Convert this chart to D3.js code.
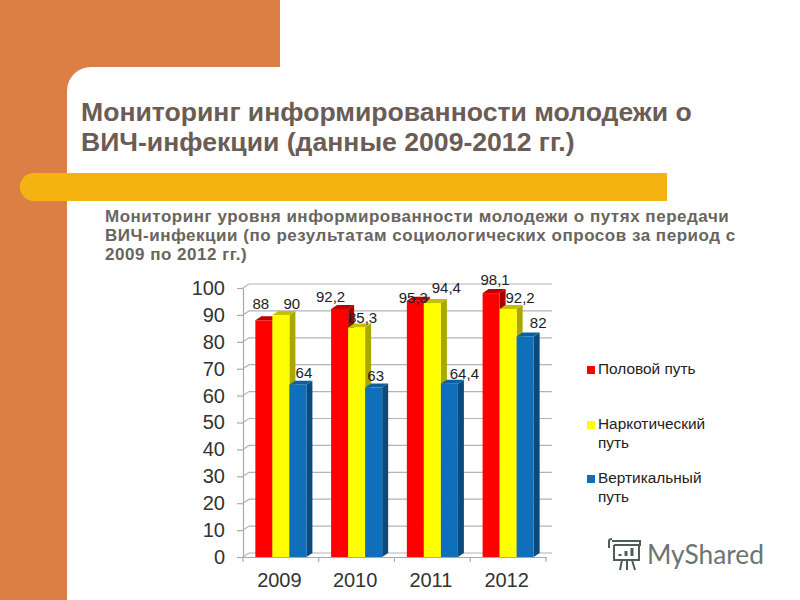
<!DOCTYPE html>
<html>
<head>
<meta charset="utf-8">
<script src="https://cdn.jsdelivr.net/npm/d3@7"></script>
<style>
    html, body { margin: 0; padding: 0; background: #fff; }
    svg { display: block; font-family: "Liberation Sans", Arial, sans-serif; }
</style>
</head>
<body>
<div id="chart"></div>
<script>
// Chart data
var years = ["2009", "2010", "2011", "2012"];
var seriesNames = ["Половой путь", "Наркотический путь", "Вертикальный путь"];
var sexual = [88, 92.2, 95.3, 98.1];
var drugs = [90, 85.3, 94.4, 92.2];
var vertical = [64, 63, 64.4, 82];
var yTicks = [0, 10, 20, 30, 40, 50, 60, 70, 80, 90, 100];

var titleLines = ["Мониторинг информированности молодежи о", "ВИЧ-инфекции (данные 2009-2012 гг.)"];
var subtitleLines = [
    "Мониторинг уровня информированности молодежи о путях передачи",
    "ВИЧ-инфекции (по результатам социологических опросов за период с",
    "2009 по 2012 гг.)"
];

// Hand placed value labels, same shape as the series: [dx, dy] from top of the bar
var labelNudge = [
    [[-3, -11], [-9, -7], [-2, 2], [4, -8]],
    [[11, -6], [6, -5], [14, -10], [12, -6]],
    [[6, -7], [2, -7], [15, -5], [13, -8]]
];

var seriesValues = [sexual, drugs, vertical];
var colors = [
    { front: "#ff0000", top: "#c00000", side: "#a80000" },
    { front: "#ffff00", top: "#c4c000", side: "#aaa800" },
    { front: "#0f6fba", top: "#0f5f9f", side: "#0b4a7d" }
];

var svg = d3.select("#chart").append("svg").attr("width", 800).attr("height", 600);

// Slide background
svg.append("rect").attr("width", 800).attr("height", 600).attr("fill", "#fff");
svg.append("rect").attr("width", 280).attr("height", 600).attr("fill", "#dc7f45");
svg.append("rect").attr("x", 67).attr("y", 67).attr("width", 240).attr("height", 560).attr("rx", 24).attr("fill", "#fff");
svg.append("rect").attr("x", 150).attr("y", 120).attr("width", 200).attr("height", 480).attr("fill", "#fff");
svg.append("path")
    .attr("d", "M667,173H34a14,14 0 0 0 0,28H667Z")
    .attr("fill", "#f5b312");

// Titles
svg.selectAll(".title").data(titleLines).enter().append("text")
    .attr("class", "title")
    .attr("x", 81)
    .attr("y", function (d, i) { return 121 + i * 30; })
    .attr("font-size", "26.6px")
    .attr("font-weight", "bold")
    .attr("fill", "#6b5c55")
    .text(function (d) { return d; });

svg.selectAll(".subtitle").data(subtitleLines).enter().append("text")
    .attr("class", "subtitle")
    .attr("x", 105)
    .attr("y", function (d, i) { return 221.5 + i * 19; })
    .attr("font-size", "17px")
    .attr("font-weight", "bold")
    .attr("letter-spacing", "0.52px")
    .attr("fill", "#6a645e")
    .text(function (d) { return d; });

// Scales
var x0 = d3.scaleBand().domain(years).range([243, 546]).paddingInner(0.326).paddingOuter(0.163);
var x1 = d3.scaleBand().domain([0, 1, 2]).range([0, x0.bandwidth()]);
var y = d3.scaleLinear().domain([0, 100]).range([557, 288]);
var depthX = 6, depthY = 4;
var step = x0.step();
var plotLeft = x0.range()[0], plotRight = x0.range()[1];

// Back gridlines with the 3d floor offset
var grid = svg.append("g").attr("fill", "none").attr("stroke", "#b4b4b4").attr("stroke-width", 1.2);
grid.selectAll("path").data(yTicks).enter().append("path")
    .attr("d", function (d) {
        return "M" + plotLeft + "," + y(d) + "l" + depthX + "," + (-depthY) + "H" + (plotRight + depthX);
    });

// Axes
var yAxis = svg.append("g")
    .attr("transform", "translate(" + plotLeft + ",0)")
    .call(d3.axisLeft(y).tickValues(yTicks).tickSize(6).tickPadding(12).tickSizeOuter(0));
yAxis.selectAll("text").attr("font-size", "20px").attr("font-family", "Liberation Sans").attr("fill", "#333");
yAxis.selectAll("line, path").attr("stroke", "#aaa").attr("stroke-width", 1.2);

var xAxis = svg.append("g")
    .attr("transform", "translate(0," + y(0) + ")")
    .call(d3.axisBottom(x0).tickSize(0).tickPadding(16).tickSizeOuter(0));
xAxis.selectAll("text")
    .attr("font-size", "20px")
    .attr("font-family", "Liberation Sans")
    .attr("fill", "#333")
    .attr("x", -1.5);
xAxis.selectAll("path").attr("stroke", "#aaa").attr("stroke-width", 1.2);
// tick marks sit between the groups, not under them
svg.selectAll(".xtick").data(d3.range(years.length + 1)).enter().append("line")
    .attr("class", "xtick")
    .attr("x1", function (d) { return plotLeft + d * step; })
    .attr("x2", function (d) { return plotLeft + d * step; })
    .attr("y1", y(0))
    .attr("y2", y(0) + 5)
    .attr("stroke", "#aaa")
    .attr("stroke-width", 1.2);

// Bars: draw by group, back series last so each one overlaps its neighbour's side
var barW = x1.bandwidth();
years.forEach(function (year, g) {
    seriesValues.forEach(function (values, s) {
        var bx = x0(year) + x1(s);
        var by = y(values[g]);
        var b = svg.append("g");
        b.append("path")
            .attr("d", "M" + (bx + barW) + "," + by + "l" + depthX + "," + (-depthY) + "V" + (y(0) - depthY) + "l" + (-depthX) + "," + depthY + "Z")
            .attr("fill", colors[s].side);
        b.append("path")
            .attr("d", "M" + bx + "," + by + "l" + depthX + "," + (-depthY) + "h" + barW + "l" + (-depthX) + "," + depthY + "Z")
            .attr("fill", colors[s].top);
        b.append("rect")
            .attr("x", bx).attr("y", by)
            .attr("width", barW).attr("height", y(0) - by)
            .attr("fill", colors[s].front);
    });
});

// Value labels
seriesValues.forEach(function (values, s) {
    values.forEach(function (v, g) {
        svg.append("text")
            .attr("x", x0(years[g]) + x1(s) + barW / 2 + labelNudge[s][g][0])
            .attr("y", y(v) + labelNudge[s][g][1])
            .attr("text-anchor", "middle")
            .attr("font-size", "15px")
            .attr("fill", "#222")
            .text(String(v).replace(".", ","));
    });
});

// Legend
var legendRows = [
    { lines: ["Половой путь"], top: 374 },
    { lines: ["Наркотический", "путь"], top: 429 },
    { lines: ["Вертикальный", "путь"], top: 483 }
];
legendRows.forEach(function (row, i) {
    svg.append("rect")
        .attr("x", 587).attr("y", row.top - 8)
        .attr("width", 8).attr("height", 8)
        .attr("fill", colors[i].front);
    row.lines.forEach(function (line, j) {
        svg.append("text")
            .attr("x", 598)
            .attr("y", row.top + j * 18.5)
            .attr("font-size", "15.4px")
            .attr("fill", "#222")
            .text(line);
    });
});

// Watermark
var mark = svg.append("g").attr("fill", "none").attr("stroke", "#4f5d58").attr("stroke-width", 2);
mark.append("path").attr("d", "M612,541H640V545H614M609,548V541Q609,539 612,539M614,545V560H639V545M622,560L620,570M632,560L635,570M627,560V570");
mark.append("path").attr("d", "M620,556V554M626,556V551M632,556V548").attr("stroke-width", 3);
svg.append("text")
    .attr("x", 647)
    .attr("y", 564)
    .attr("font-family", "Lato")
    .attr("font-size", "26.3px")
    .attr("fill", "#6a7571")
    .text("MyShared");
</script>
</body>
</html>
